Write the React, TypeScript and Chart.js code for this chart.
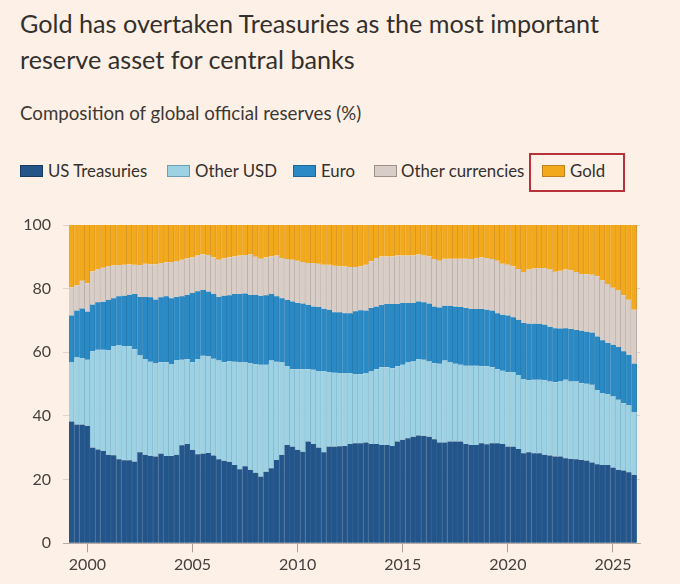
import { useEffect, useRef } from "react";
import { Chart, registerables } from "chart.js";

Chart.register(...registerables);

// Quarterly categories, 1999 Q1 – 2025 Q4
const firstYear = 1999;
const lastYear = 2025;
const quarters: string[] = [];
for (let y = firstYear; y <= lastYear; y++) {
  for (let q = 1; q <= 4; q++) quarters.push(`${y} Q${q}`);
}

// Axis tick labels (placed at the year boundary, i.e. the previous year's Q4)
const tickYears = [2000, 2005, 2010, 2015, 2020, 2025];
const yTicks = [0, 20, 40, 60, 80, 100];

// Composition of global official reserves (%)
const usTreasuries = [
  38.3, 37.3, 37.3, 36.9, 30.1, 29.5, 29.0, 27.8, 27.7, 26.4, 26.1, 26.1,
  25.7, 28.6, 27.8, 27.5, 27.3, 28.2, 27.4, 27.4, 27.8, 30.8, 31.2, 29.4,
  28.0, 28.2, 28.4, 27.6, 26.4, 25.9, 25.6, 24.6, 23.3, 24.2, 23.1, 22.2,
  21.0, 22.5, 23.6, 26.2, 27.8, 30.9, 30.4, 29.4, 28.8, 32.0, 31.2, 30.1,
  28.6, 30.4, 30.4, 30.5, 30.6, 31.2, 31.4, 31.4, 31.7, 31.2, 31.2, 30.9,
  30.9, 30.6, 32.0, 32.5, 33.0, 33.5, 33.9, 33.8, 33.5, 32.7, 31.7, 31.7,
  32.0, 32.0, 32.0, 31.2, 30.9, 30.9, 31.4, 31.1, 31.4, 31.4, 31.2, 30.4,
  30.4, 29.6, 28.3, 28.6, 28.3, 28.3, 27.8, 27.6, 27.3, 27.3, 26.7, 26.5,
  26.4, 26.2, 26.0, 25.4, 24.8, 24.6, 24.6, 23.8, 23.1, 22.9, 22.3, 21.5,
];
const otherUsd = [
  18.5, 21.1, 20.9, 20.8, 30.2, 31.3, 31.8, 32.8, 34.3, 35.9, 35.9, 35.8,
  35.3, 30.4, 30.1, 29.5, 29.2, 28.7, 29.5, 28.9, 29.8, 26.9, 26.6, 27.5,
  29.9, 30.7, 30.3, 30.4, 31.0, 31.0, 31.7, 32.4, 33.5, 32.6, 33.4, 34.1,
  35.1, 33.6, 33.8, 30.8, 29.0, 24.8, 24.3, 25.3, 25.9, 22.7, 23.3, 24.0,
  25.5, 23.4, 23.2, 23.0, 22.9, 22.3, 21.8, 21.7, 21.8, 22.8, 23.5, 24.4,
  24.4, 24.4, 23.6, 23.6, 23.8, 23.6, 24.0, 23.9, 23.6, 23.9, 24.7, 25.7,
  24.8, 24.4, 24.1, 24.6, 24.9, 24.9, 24.2, 24.5, 23.9, 23.3, 23.0, 23.3,
  23.4, 23.3, 23.3, 22.6, 23.1, 23.1, 23.4, 23.2, 23.3, 23.5, 24.7, 24.3,
  24.4, 24.1, 24.1, 24.4, 23.4, 22.6, 22.3, 22.3, 22.0, 21.1, 21.0, 19.6,
];
const euro = [
  14.8, 14.7, 15.6, 15.1, 14.7, 14.9, 15.1, 15.9, 15.0, 15.3, 15.8, 16.2,
  17.3, 18.4, 19.5, 20.3, 20.1, 20.4, 20.7, 20.7, 19.8, 19.9, 20.2, 21.7,
  21.3, 20.7, 20.4, 20.4, 20.0, 20.9, 20.6, 21.3, 21.5, 21.7, 21.5, 21.8,
  21.6, 21.8, 21.0, 20.6, 20.2, 20.8, 21.3, 20.8, 20.6, 20.2, 19.9, 20.1,
  19.6, 19.6, 19.0, 19.1, 18.8, 18.8, 19.7, 20.1, 19.6, 19.9, 19.7, 19.6,
  19.9, 20.2, 19.6, 19.4, 18.7, 18.4, 18.1, 18.0, 18.2, 17.8, 17.7, 17.2,
  17.8, 18.0, 18.1, 18.1, 17.8, 17.8, 18.0, 17.8, 17.8, 17.6, 17.6, 17.9,
  17.2, 17.3, 17.6, 17.8, 17.6, 17.6, 17.5, 17.2, 17.0, 16.7, 16.2, 16.5,
  16.2, 16.5, 16.4, 16.4, 16.8, 16.6, 16.1, 16.3, 16.6, 16.3, 15.9, 15.4,
];
const otherCurrencies = [
  8.8, 8.0, 8.7, 8.9, 10.4, 10.5, 10.7, 10.6, 10.3, 9.8, 9.7, 9.5,
  9.2, 10.0, 10.4, 10.4, 11.0, 10.8, 10.7, 11.4, 11.3, 11.5, 11.5, 11.2,
  11.2, 11.2, 11.5, 11.4, 11.7, 11.7, 12.0, 11.8, 12.1, 12.1, 12.7, 11.9,
  11.7, 11.9, 11.7, 12.8, 12.6, 12.8, 13.1, 13.3, 13.1, 13.2, 13.7, 13.6,
  13.8, 14.1, 14.6, 14.4, 14.7, 14.5, 13.9, 13.8, 14.4, 14.7, 15.2, 15.2,
  14.9, 14.9, 15.2, 14.9, 14.9, 14.9, 14.7, 14.7, 14.8, 14.9, 14.7, 14.8,
  14.8, 15.0, 15.2, 15.5, 15.7, 16.0, 16.2, 16.2, 16.2, 16.5, 16.0, 15.9,
  16.0, 16.0, 16.0, 17.0, 17.3, 17.5, 17.8, 18.0, 17.7, 18.1, 18.4, 18.5,
  18.2, 17.8, 18.0, 18.2, 18.9, 18.8, 18.5, 17.9, 17.7, 17.6, 17.3, 16.9,
];
const gold = [
  19.6, 18.9, 17.5, 18.3, 14.6, 13.8, 13.4, 12.9, 12.7, 12.6, 12.5, 12.4,
  12.5, 12.6, 12.2, 12.3, 12.4, 11.9, 11.7, 11.6, 11.3, 10.9, 10.5, 10.2,
  9.6, 9.2, 9.4, 10.2, 10.9, 10.5, 10.1, 9.9, 9.6, 9.4, 9.3, 10.0,
  10.6, 10.2, 9.9, 9.6, 10.4, 10.7, 10.9, 11.2, 11.6, 11.9, 11.9, 12.2,
  12.5, 12.5, 12.8, 13.0, 13.0, 13.2, 13.2, 13.0, 12.5, 11.4, 10.4, 9.9,
  9.9, 9.9, 9.6, 9.6, 9.6, 9.6, 9.3, 9.6, 9.9, 10.7, 11.2, 10.6,
  10.6, 10.6, 10.6, 10.6, 10.7, 10.4, 10.2, 10.4, 10.7, 11.2, 12.2, 12.5,
  13.0, 13.8, 14.8, 14.0, 13.7, 13.5, 13.5, 14.0, 14.7, 14.4, 14.0, 14.2,
  14.8, 15.4, 15.5, 15.6, 16.1, 17.4, 18.5, 19.7, 20.6, 22.1, 23.5, 26.6,
];

const BG = "#fdf0e6";
const FONT = "Lato, 'Noto Sans', sans-serif";

const series = [
  { label: "US Treasuries", data: usTreasuries, color: "#23558a", edge: "#2f6294", swatchEdge: "#173a60" },
  { label: "Other USD", data: otherUsd, color: "#9dd1e4", edge: "#82b4c8", swatchEdge: "#6d9fb2" },
  { label: "Euro", data: euro, color: "#2b89c4", edge: "#2478ae", swatchEdge: "#1d6595" },
  { label: "Other currencies", data: otherCurrencies, color: "#d8cec7", edge: "#b5aaa2", swatchEdge: "#9d928a" },
  { label: "Gold", data: gold, color: "#f3a91c", edge: "#d4912a", swatchEdge: "#c0821d" },
];

const legendPos = [
  { sx: 20, tx: 48 },
  { sx: 167, tx: 195 },
  { sx: 293, tx: 321 },
  { sx: 374, tx: 401 },
  { sx: 542, tx: 570 },
];

export default function App() {
  const ref = useRef<HTMLCanvasElement>(null);

  useEffect(() => {
    document.body.style.margin = "0";
    document.body.style.background = BG;
    const tickIndex = tickYears.map((y) => quarters.indexOf(`${y - 1} Q4`));
    const chart = new Chart(ref.current!, {
      type: "bar",
      data: {
        datasets: series.map((s) => ({
          label: s.label,
          data: s.data.map((v, i) => ({ x: i, y: v })),
          backgroundColor: s.color,
          borderColor: s.edge,
          borderWidth: { top: 0, bottom: 0, left: 0, right: 1 },
          borderSkipped: false,
          categoryPercentage: 1,
          barPercentage: 1,
        })),
      },
      options: {
        animation: false,
        responsive: false,
        maintainAspectRatio: false,
        layout: { padding: { top: 25, right: 40, bottom: 0, left: 0 } },
        plugins: { legend: { display: false }, tooltip: { enabled: false } },
        scales: {
          x: {
            type: "linear",
            stacked: true,
            offset: false,
            min: -1.64,
            max: 108.14,
            afterBuildTicks: (s: any) => {
              s.ticks = tickIndex.map((v) => ({ value: v }));
            },
            afterFit: (s: any) => {
              s.height = 40.7;
            },
            grid: {
              display: true,
              offset: false,
              drawOnChartArea: false,
              drawTicks: true,
              tickLength: 9,
              color: "#a8a098",
            },
            border: { display: true, color: "#b5aca4" },
            ticks: {
              autoSkip: false,
              maxRotation: 0,
              padding: 3,
              color: "#46413e",
              font: { family: FONT, size: 16 },
              callback: (v: any) => {
                const k = tickIndex.indexOf(Number(v));
                return k >= 0 ? String(tickYears[k]) : "";
              },
            },
          },
          y: {
            stacked: true,
            min: 0,
            max: 100,
            afterBuildTicks: (s: any) => {
              s.ticks = yTicks.map((v) => ({ value: v }));
            },
            afterFit: (s: any) => {
              s.width = 63;
            },
            grid: { color: "#ddd3ca", drawTicks: false },
            border: { display: false },
            ticks: {
              padding: 12,
              color: "#46413e",
              font: { family: FONT, size: 16 },
            },
          },
        },
      },
    });
    return () => chart.destroy();
  }, []);

  return (
    <div
      style={{
        position: "relative",
        width: 680,
        height: 584,
        background: BG,
        overflow: "hidden",
        fontFamily: FONT,
      }}
    >
      <div
        style={{
          position: "absolute",
          left: 20,
          top: 5,
          fontSize: 25.2,
          lineHeight: "36px",
          color: "#33302e",
          whiteSpace: "nowrap",
        }}
      >
        Gold has overtaken Treasuries as the most important
        <br />
        reserve asset for central banks
      </div>
      <div
        style={{
          position: "absolute",
          left: 20,
          top: 102,
          fontSize: 18.7,
          lineHeight: "22px",
          color: "#3d3935",
          whiteSpace: "nowrap",
        }}
      >
        Composition of global official reserves (%)
      </div>
      {series.map((s, i) => (
        <div key={s.label}>
          <div
            style={{
              position: "absolute",
              left: legendPos[i].sx,
              top: 165,
              width: 23,
              height: 12,
              boxSizing: "border-box",
              background: s.color,
              border: `1px solid ${s.swatchEdge}`,
            }}
          />
          <div
            style={{
              position: "absolute",
              left: legendPos[i].tx,
              top: 161,
              fontSize: 16.8,
              lineHeight: "20px",
              color: "#33302e",
              whiteSpace: "nowrap",
            }}
          >
            {s.label}
          </div>
        </div>
      ))}
      <div
        style={{
          position: "absolute",
          left: 529,
          top: 153,
          width: 96,
          height: 39,
          boxSizing: "border-box",
          border: "2px solid #b8323c",
        }}
      />
      <canvas
        ref={ref}
        width={680}
        height={384}
        style={{ position: "absolute", left: 0, top: 200, width: 680, height: 384, display: "block" }}
      />
    </div>
  );
}
